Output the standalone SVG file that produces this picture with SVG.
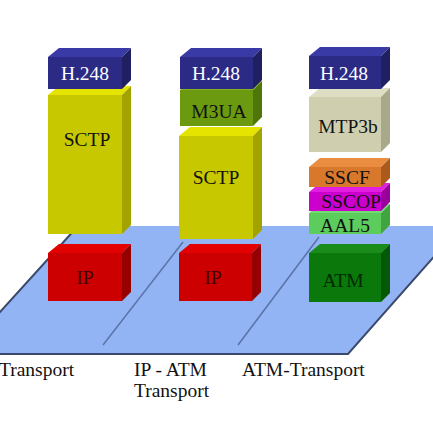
<svg xmlns="http://www.w3.org/2000/svg" width="433" height="433" viewBox="0 0 433 433">
<style>
text{font-family:"Liberation Serif","Times New Roman",serif;font-size:19.5px;text-anchor:middle;fill:#111}
.w{fill:#fff}
.lbl{text-anchor:start}
.navy .f{fill:#2b2b86}.navy .t{fill:#3a3aa6}.navy .s{fill:#1f1f62}
.yel .f{fill:#c8c800}.yel .t{fill:#e4e400}.yel .s{fill:#a3a300}
.red .f{fill:#cc0000}.red .t{fill:#e30000}.red .s{fill:#960000}
.olv .f{fill:#6b9a10}.olv .t{fill:#84b424}.olv .s{fill:#4f760a}
.bei .f{fill:#cfcfb0}.bei .t{fill:#dedec4}.bei .s{fill:#a8a88a}
.org .f{fill:#d8782c}.org .t{fill:#ea8d40}.org .s{fill:#ac5a1c}
.mag .f{fill:#cc00cc}.mag .t{fill:#e21ee2}.mag .s{fill:#9c009c}
.lgr .f{fill:#5ccc5c}.lgr .t{fill:#74dc74}.lgr .s{fill:#40a440}
.dgr .f{fill:#0a780a}.dgr .t{fill:#1a8c1a}.dgr .s{fill:#055805}
</style>
<rect width="433" height="433" fill="#fff"/>
<g id="platform">
<polygon points="78,226 461,226 348,354 -38,354" fill="#92b4f4"/>
<polyline points="78,226 -38,354 348,354 461,226" fill="none" stroke="#3b4a6c" stroke-width="2"/>
</g>
<g id="connectors" stroke="#5a74a8" stroke-width="1.5" fill="none">
<line x1="103" y1="345" x2="183" y2="242"/>
<line x1="238" y1="345" x2="319" y2="237"/>
</g>
<!-- column 1 -->
<g id="ip1" class="red">
<polygon class="t" points="48,253 122,253 131,244 59,244"/>
<polygon class="s" points="122,253 131,244 131,292 122,301"/>
<rect class="f" x="48" y="253" width="74" height="48"/>
<text x="85" y="284" style="fill:#3a0000">IP</text>
</g>
<g id="sctp1" class="yel">
<polygon class="t" points="48,95 122,95 131,86 59,86"/>
<polygon class="s" points="122,95 131,86 131,225 122,234"/>
<rect class="f" x="48" y="95" width="74" height="139"/>
<text x="87" y="146">SCTP</text>
</g>
<g id="h248a" class="navy">
<polygon class="t" points="48,57 122,57 131,48 59,48"/>
<polygon class="s" points="122,57 131,48 131,80 122,89"/>
<rect class="f" x="48" y="57" width="74" height="32"/>
<text class="w" x="85" y="80">H.248</text>
</g>
<!-- column 2 -->
<g id="ip2" class="red">
<polygon class="t" points="179,253 252,253 261,244 190,244"/>
<polygon class="s" points="252,253 261,244 261,292 252,301"/>
<rect class="f" x="179" y="253" width="73" height="48"/>
<text x="213" y="284" style="fill:#3a0000">IP</text>
</g>
<g id="sctp2" class="yel">
<polygon class="t" points="179,136 253,136 262,127 190,127"/>
<polygon class="s" points="253,136 262,127 262,230 253,239"/>
<rect class="f" x="179" y="136" width="74" height="103"/>
<text x="216" y="184">SCTP</text>
</g>
<g id="m3ua" class="olv">
<polygon class="t" points="180,90 253,90 262,81 191,81"/>
<polygon class="s" points="253,90 262,81 262,117 253,126"/>
<rect class="f" x="180" y="90" width="73" height="36"/>
<text x="219" y="118">M3UA</text>
</g>
<g id="h248b" class="navy">
<polygon class="t" points="180,57 253,57 262,48 191,48"/>
<polygon class="s" points="253,57 262,48 262,80 253,89"/>
<rect class="f" x="180" y="57" width="73" height="32"/>
<text class="w" x="216" y="80">H.248</text>
</g>
<!-- column 3 -->
<g id="atm" class="dgr">
<polygon class="t" points="309,253 381,253 390,244 320,244"/>
<polygon class="s" points="381,253 390,244 390,293 381,302"/>
<rect class="f" x="309" y="253" width="72" height="49"/>
<text x="343" y="287" style="fill:#002a00">ATM</text>
</g>
<g id="aal5" class="lgr">
<polygon class="t" points="309,213 381,213 390,204 320,204"/>
<polygon class="s" points="381,213 390,204 390,225 381,234"/>
<rect class="f" x="309" y="213" width="72" height="21"/>
<text x="345" y="232">AAL5</text>
</g>
<g id="sscop" class="mag">
<polygon class="t" points="309,192 381,192 390,183 320,183"/>
<polygon class="s" points="381,192 390,183 390,202 381,211"/>
<rect class="f" x="309" y="192" width="72" height="19"/>
<text x="351" y="208">SSCOP</text>
</g>
<g id="sscf" class="org">
<polygon class="t" points="309,167 381,167 390,158 320,158"/>
<polygon class="s" points="381,167 390,158 390,178 381,187"/>
<rect class="f" x="309" y="167" width="72" height="20"/>
<text x="347" y="184">SSCF</text>
</g>
<g id="mtp3b" class="bei">
<polygon class="t" points="309,97 381,97 390,88 320,88"/>
<polygon class="s" points="381,97 390,88 390,143 381,152"/>
<rect class="f" x="309" y="97" width="72" height="55"/>
<text x="348" y="133">MTP3b</text>
</g>
<g id="h248c" class="navy">
<polygon class="t" points="309,56 381,56 390,47 320,47"/>
<polygon class="s" points="381,56 390,47 390,80 381,89"/>
<rect class="f" x="309" y="56" width="72" height="33"/>
<text class="w" x="344" y="80">H.248</text>
</g>
<g id="labels">
<text class="lbl" x="-1" y="376">Transport</text>
<text class="lbl" x="134" y="376">IP - ATM</text>
<text class="lbl" x="134" y="397">Transport</text>
<text class="lbl" x="242" y="376">ATM-Transport</text>
</g>
</svg>
